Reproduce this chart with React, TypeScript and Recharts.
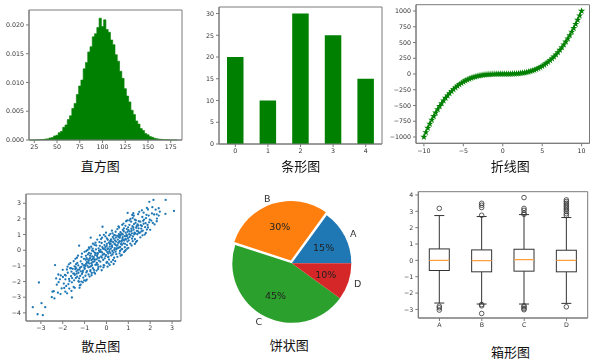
import React from 'react'
import {
  BarChart, Bar, AreaChart, Area, LineChart, Line, ScatterChart, Scatter, PieChart, Pie, Cell,
  XAxis, YAxis, CartesianGrid, Symbols,
} from 'recharts'

const GREEN = '#008000'
const FRAME = '#7a7a7a'
const TICK = { fontSize: 6.3, fill: '#333', fontFamily: 'DejaVu Sans' }
const TITLE_FONT = '"Noto Sans CJK SC", sans-serif'

// 直方图
const histCenters = [
  20, 22.5, 25, 27.5, 30, 32.5, 35, 37.5, 40, 42.5,
  45, 47.5, 50, 52.5, 55, 57.5, 60, 62.5, 65, 67.5,
  70, 72.5, 75, 77.5, 80, 82.5, 85, 87.5, 90, 92.5,
  95, 97.5, 100, 102.5, 105, 107.5, 110, 112.5, 115, 117.5,
  120, 122.5, 125, 127.5, 130, 132.5, 135, 137.5, 140, 142.5,
  145, 147.5, 150, 152.5, 155, 157.5, 160, 162.5, 165, 167.5,
  170, 172.5, 175, 177.5, 180, 182.5,
]
const histDensity = [
  0.00001, 0.00001, 0.00002, 0.00004, 0.00004, 0.00008, 0.0001, 0.00016, 0.0002, 0.00036,
  0.00043, 0.00071, 0.00083, 0.00128, 0.00151, 0.00221, 0.00262, 0.00355, 0.00421, 0.00548,
  0.00635, 0.00792, 0.00938, 0.01042, 0.01237, 0.01349, 0.01531, 0.01622, 0.01794, 0.01848,
  0.01957, 0.02118, 0.01972, 0.02089, 0.01921, 0.01872, 0.01739, 0.01658, 0.01483, 0.01371,
  0.01195, 0.01072, 0.00893, 0.00764, 0.00662, 0.00517, 0.00443, 0.00331, 0.00276, 0.00198,
  0.00163, 0.00112, 0.00091, 0.00059, 0.00047, 0.00029, 0.00023, 0.00014, 0.00011, 0.00006,
  0.00005, 0.00003, 0.00002, 0.00001, 0.00001, 0.00001,
]
const histTicksX = [25, 50, 75, 100, 125, 150, 175]
const histTicksY = [0, 0.005, 0.01, 0.015, 0.02]

// 条形图
const barCats = ['0', '1', '2', '3', '4']
const barValues = [20, 10, 30, 25, 15]
const barTicksY = [0, 5, 10, 15, 20, 25, 30]

// 折线图
const lineX = [
  -10, -9.75, -9.5, -9.25, -9, -8.75, -8.5, -8.25, -8, -7.75, -7.5, -7.25, -7, -6.75, -6.5, -6.25,
  -6, -5.75, -5.5, -5.25, -5, -4.75, -4.5, -4.25, -4, -3.75, -3.5, -3.25, -3, -2.75, -2.5, -2.25,
  -2, -1.75, -1.5, -1.25, -1, -0.75, -0.5, -0.25, 0, 0.25, 0.5, 0.75, 1, 1.25, 1.5, 1.75,
  2, 2.25, 2.5, 2.75, 3, 3.25, 3.5, 3.75, 4, 4.25, 4.5, 4.75, 5, 5.25, 5.5, 5.75,
  6, 6.25, 6.5, 6.75, 7, 7.25, 7.5, 7.75, 8, 8.25, 8.5, 8.75, 9, 9.25, 9.5, 9.75, 10,
]
const lineY = [
  -1000, -926.9, -857.4, -791.5, -729, -669.9, -614.1, -561.5, -512, -465.5, -421.9, -381.1, -343, -307.5, -274.6, -244.1,
  -216, -190.1, -166.4, -144.7, -125, -107.2, -91.1, -76.8, -64, -52.7, -42.9, -34.3, -27, -20.8, -15.6, -11.4,
  -8, -5.4, -3.4, -2, -1, -0.4, -0.1, 0, 0, 0, 0.1, 0.4, 1, 2, 3.4, 5.4,
  8, 11.4, 15.6, 20.8, 27, 34.3, 42.9, 52.7, 64, 76.8, 91.1, 107.2, 125, 144.7, 166.4, 190.1,
  216, 244.1, 274.6, 307.5, 343, 381.1, 421.9, 465.5, 512, 561.5, 614.1, 669.9, 729, 791.5, 857.4, 926.9, 1000,
]
const lineTicksX = [-10, -5, 0, 5, 10]
const lineTicksY = [-1000, -750, -500, -250, 0, 250, 500, 750, 1000]

// 散点图
const scatterPoints = [
  [-0.12, 0.08], [0.45, 0.06], [0.07, 0.12], [-0.31, -0.11], [0.22, -0.33], [-0.19, 0.2], [0.38, 0.13], [-0.02, -0.31],
  [0.15, 0.23], [0.29, 0.85], [-0.37, -1.07], [0.11, 0.48], [-0.26, -0.1], [0.41, 0.35], [-0.08, -0.52], [0.33, 0.74],
  [-0.44, -0.81], [0.02, 0.41], [-0.15, -0.62], [0.27, -0.05], [0.49, 0.92], [-0.48, 0.05], [0.18, -0.17], [-0.22, 0.46],
  [0.36, 0.02], [-0.05, 0.19], [0.09, -0.41], [-0.33, -0.48], [0.24, 0.57], [-0.41, -0.25], [0.13, -0.08], [-0.28, -0.73],
  [0.47, 0.28], [-0.17, -0.29], [0.04, -0.12], [0.31, 0.51], [-0.46, -0.58], [0.2, 0.1], [-0.09, 0.33], [0.42, -0.09],
  [-0.36, 0.12], [0.06, 0.67], [-0.24, -0.4], [0.39, 0.63], [-0.13, -0.95], [0.16, 0.38], [-0.39, -0.18], [0.26, 0.21],
  [-0.01, -0.02], [0.44, 0.55], [-0.3, 0.28], [0.12, -0.6], [-0.2, -0.14], [0.35, 0.96], [-0.43, -0.37], [0.01, 0.27],
  [-0.11, -0.24], [0.21, 0.69], [-0.35, -0.66], [0.48, 0.12], [-0.06, 0.04], [0.28, -0.27], [-0.47, -0.92], [0.17, 0.59],
  [-0.27, 0.02], [0.08, -0.21], [0.37, 0.4], [-0.16, 0.11], [0.03, -0.75], [-0.4, -0.5], [0.25, 0.3], [0.43, 0.81],
  [-0.21, -0.47], [0.14, 0.04], [-0.04, -0.38], [0.32, -0.15], [-0.34, -0.02], [0.19, 0.44], [-0.49, -0.19], [0.05, 0.09],
  [0.54, 0.47], [0.66, 0.98], [0.81, 0.62], [0.93, 1.35], [0.63, 0.21], [0.74, 0.83], [0.98, 0.77], [0.57, 1.02],
  [0.71, 0.35], [0.88, 1.12], [0.52, 0.68], [0.96, 0.55], [0.68, 0.54], [0.79, 1.21], [0.61, 0.79], [0.85, 0.41],
  [0.92, 0.99], [0.58, 0.18], [0.76, 0.66], [0.99, 1.46], [0.64, 1.15], [0.83, 0.9], [0.55, 0.85], [0.72, 0.07],
  [0.9, 0.68], [0.6, 0.58], [0.87, 1.56], [0.78, 0.44], [0.95, 0.92], [0.51, 0.33], [0.69, 1.07], [0.84, 0.19],
  [0.62, 0.91], [0.97, 1.18], [0.73, 0.72], [0.56, 0.5], [0.89, 0.88], [0.66, 0.39], [0.8, 1.4], [0.94, 0.33],
  [0.59, 0.96], [0.75, 1.01], [0.86, 0.71], [0.53, 0.14], [0.7, 0.6],
  [-0.58, -0.44], [-0.83, -1.09], [-0.71, -0.22], [-0.95, -0.61], [-0.66, -0.96], [-0.89, -1.33], [-0.52, -0.31], [-0.77, -0.85],
  [-0.98, -0.95], [-0.62, -1.15], [-0.74, -0.48], [-0.86, -0.59], [-0.55, -0.71], [-0.92, -1.42], [-0.69, -0.64], [-0.8, -0.17],
  [-0.6, -0.06], [-0.97, -1.01], [-0.73, -1.27], [-0.84, -0.8], [-0.51, -0.93], [-0.65, -0.39], [-0.9, -0.76], [-0.78, -0.55],
  [-0.57, -1.26], [-0.94, -0.36], [-0.68, -0.83], [-0.82, -1.55], [-0.63, -0.57], [-0.99, -1.19], [-0.72, 0.8], [-0.87, -0.99],
  [-0.54, -0.15], [-0.76, -1.06], [-0.93, -0.87], [-0.61, -0.75], [-0.85, -0.27], [-0.7, -1.02], [-0.96, -1.63], [-0.59, -0.52],
  [-0.81, -0.68], [-0.67, -1.45], [-0.91, -0.5], [-0.53, -0.61], [-0.75, -0.34],
  [1.07, 1.19], [1.21, 0.88], [1.45, 1.58], [1.14, 1.37], [1.33, 1.75], [1.02, 0.63], [1.28, 1.12], [1.41, 1.02],
  [1.17, 0.74], [1.36, 1.43], [1.05, 1.62], [1.24, 1.31], [1.48, 1.85], [1.11, 0.96], [1.3, 0.7], [1.19, 1.53],
  [1.39, 1.24], [1.04, 1.02], [1.26, 1.67], [1.44, 1.2], [1.09, 0.42], [1.35, 1.91], [1.16, 1.08], [1.23, 1.45],
  [1.47, 1.4], [1.01, 1.28], [1.32, 1.07], [1.13, 1.82], [1.42, 1.65], [1.2, 0.58], [1.38, 1.53], [1.06, 0.84],
  [1.27, 1.02], [1.49, 1.11], [1.15, 1.24], [0.97, 2.38], [1.23, 2.36],
  [-1.05, -0.97], [-1.28, -1.44], [-1.42, -1.06], [-1.18, -0.71], [-1.34, -1.69], [-1.07, -1.31], [-1.45, -1.58], [-1.21, -1.12],
  [-1.39, -0.89], [-1.12, -1.52], [-1.31, -1.27], [-1.48, -1.92], [-1.03, -0.55], [-1.25, -1.8], [-1.37, -1.35], [-1.15, -1.06],
  [-1.43, -1.21], [-1.09, -1.41], [-1.29, -0.97], [-1.47, -1.49], [-1.2, -1.64], [-1.33, -0.81], [-1.01, -1.12], [-1.4, -1.77],
  [-1.24, -1.23], [-1.11, -0.87], [-1.36, -1.5], [-1.46, -1.03], [-1.17, -1.35], [-1.26, -2.02], [-1.23, -2.4], [-1.25, 0.29],
  [-1.06, -1.75], [-1.38, -1.16], [-1.14, -0.43],
  [1.59, 1.38], [1.72, 1.96], [1.88, 1.61], [1.55, 1.82], [1.66, 1.25], [1.81, 2.05], [1.95, 1.78], [1.62, 1.55],
  [1.77, 1.47], [1.93, 2.21], [1.53, 1.12], [1.7, 1.69], [1.85, 1.32], [1.98, 1.95], [1.64, 2.12], [1.79, 1.73],
  [1.57, 1.6], [1.9, 1.45], [1.68, 1.88], [1.83, 2.26],
  [-1.54, -1.19], [-1.71, -1.83], [-1.9, -1.58], [-1.58, -2.05], [-1.77, -1.44], [-1.95, -2.13], [-1.62, -1.66], [-1.84, -2.28],
  [-1.52, -1.49], [-1.66, -1.15], [-1.88, -1.86], [-1.99, -1.71], [-1.6, -1.37], [-1.74, -2.16], [-1.93, -2.41], [-1.57, -1.78],
  [-1.81, -1.23], [-1.69, -1.97], [-1.86, -1.62], [-1.58, -3.02],
  [2.05, 1.89], [2.18, 2.28], [2.31, 2.02], [2.12, 1.74], [2.44, 2.46], [2.25, 2.59], [2.39, 2.21], [2.08, 2.35],
  [2.15, 3.21], [1.96, 3.09], [2.3, 2.29], [2.39, 2.68],
  [-2.13, -1.86], [-2.05, -2.44], [-2.27, -2.2], [-2.41, -2.62], [-2.19, -2.04], [-2.35, -0.95], [-2.5, -3.0], [-2.38, -3.08],
  [-2.47, -2.65], [-2.22, -2.71], [-2.09, -1.61],
  [2.71, 3.21], [3.09, 2.51], [2.7, 2.32], [-3.37, -3.64], [-3.15, -4.09], [-2.91, -4.15], [-2.8, -3.64], [-2.97, -3.38],
  [-3.09, -2.06], [-0.18, 1.5],
  [0.1, -0.85], [-0.05, 0.88], [0.3, -0.62], [-0.25, 0.71], [0.42, 1.18], [-0.38, -1.2], [0.6, -0.2], [-0.55, 0.35],
  [0.85, -0.05], [-0.8, 0.18], [0.18, 1.05], [-0.14, -1.1], [0.5, 1.35], [-0.45, -1.3], [0.72, 1.62], [-0.68, -1.6],
  [1.0, 0.15], [-1.0, -0.1], [1.2, 2.05], [-1.15, -2.0], [0.35, -0.48], [-0.32, 0.52], [0.9, 1.85], [-0.9, -1.88],
  [1.3, 0.4], [-1.3, -0.35], [0.05, -1.05], [-0.02, 1.12], [0.65, -0.35], [-0.62, 0.42], [1.55, 0.82], [-1.5, -0.7],
  [1.45, 2.3], [-1.45, -2.4], [0.25, 1.25], [-0.22, -1.28], [0.8, -0.12], [-0.78, 0.1], [1.1, 2.0], [-1.08, -2.05],
  [1.75, 1.0], [-1.72, -0.9], [1.85, 2.7], [-1.8, -2.75], [0.15, -0.95], [-0.12, 0.98], [0.58, 1.45], [-0.56, -1.42],
  [1.62, 2.55], [-1.6, -2.6], [2.0, 1.3], [-2.0, -1.25], [0.4, -0.7], [-0.42, 0.68], [0.95, 1.9], [-0.95, -1.95],
  [1.35, 0.52], [-1.35, -0.48], [0.7, -0.3], [-0.7, 0.22], [1.25, 2.2], [-1.22, -2.25], [0.02, 0.75], [0.0, -0.8],
  [0.5, -0.42], [-0.5, 0.48], [1.65, 0.95], [-1.65, -0.82], [0.28, 1.08], [-0.27, -1.04], [1.9, 2.6], [-1.88, -2.65],
  [0.78, 1.7], [-0.77, -1.68], [1.15, 0.3], [-1.12, -0.22], [0.45, -0.25], [-0.47, 0.3], [2.2, 1.65], [-2.2, -1.55],
  [1.05, 1.9], [-1.02, -1.92], [0.62, -0.05], [-0.63, 0.1], [1.5, 2.45], [-1.5, -2.35], [0.12, 0.95], [-0.1, -0.98],
  [0.88, 0.0], [-0.86, 0.02], [1.4, 0.6], [-1.42, -0.55], [0.22, -0.75], [-0.2, 0.8], [1.8, 1.1], [-1.78, -1.05],
  [0.55, 1.52], [-0.52, -1.5], [2.1, 2.75], [-2.1, -2.8], [0.33, -0.88], [-0.3, 0.95], [1.18, 2.25], [-1.18, -2.2],
  [0.95, 0.1], [-0.92, -0.05], [1.7, 2.4], [-1.7, -2.45], [0.08, -0.45], [-0.07, 0.55], [0.75, 1.3], [-0.74, -1.35],
  [1.3, 1.95], [-1.28, -1.98], [0.4, 0.95], [-0.4, -0.92], [1.6, 1.2], [-1.62, -1.15], [2.3, 1.85], [-2.3, -1.8],
  [0.68, 0.05], [-0.66, -0.02],
]
const scatterTicksX = [-3, -2, -1, 0, 1, 2, 3]
const scatterTicksY = [-4, -3, -2, -1, 0, 1, 2, 3]

// 饼状图
const pieLabels = ['A', 'B', 'C', 'D']
const pieShares = [15, 30, 45, 10]
const pieColors = ['#1f77b4', '#ff7f0e', '#2ca02c', '#d62728']
const pieExploded = 'B'

// 箱形图
const boxCats = ['A', 'B', 'C', 'D']
const boxLow = [-2.61, -2.67, -2.67, -2.63]
const boxQ1 = [-0.62, -0.7, -0.66, -0.7]
const boxMedian = [0, -0.01, 0.05, 0]
const boxQ3 = [0.7, 0.64, 0.68, 0.62]
const boxHigh = [2.74, 2.68, 2.8, 2.62]
const boxOutliers = [
  [3.18, -2.8, -2.9, -3.04],
  [3.49, 3.37, 3.23, 2.76, -2.7, -2.78, -3.25],
  [3.84, 3.18, 3.06, 2.9, 2.82, -2.78, -2.85, -2.95, -3.02],
  [3.7, 3.6, 3.49, 3.39, 3.29, 3.19, 3.09, 2.99, 2.85, 2.74, -2.84],
]
const boxTicksY = [-3, -2, -1, 0, 1, 2, 3, 4]

const histData = histCenters.map((x, i) => ({ x, d: histDensity[i] }))
const barData = barCats.map((name, i) => ({ name, v: barValues[i] }))
const lineData = lineX.map((x, i) => ({ x, y: lineY[i] }))
const scatterData = scatterPoints.map(([x, y]) => ({ x, y }))
const pieData = pieLabels.map((name, i) => ({ name, value: pieShares[i] }))
const boxData = boxCats.map((name, i) => ({
  name,
  range: [boxLow[i], boxHigh[i]],
  q1: boxQ1[i],
  med: boxMedian[i],
  q3: boxQ3[i],
  out: boxOutliers[i],
}))

const minus = (v: number) => (v < 0 ? '\u2212' + String(-v) : String(v))

// full box around the plot area, taken from the chart's own offset
const frame = () => (
  <CartesianGrid stroke={FRAME} strokeWidth={1}
    horizontalCoordinatesGenerator={({ offset }: any) => [offset.top, offset.top + offset.height]}
    verticalCoordinatesGenerator={({ offset }: any) => [offset.left, offset.left + offset.width]} />
)

const axisCommon = { stroke: FRAME, tick: TICK, tickSize: 3, tickMargin: 2 }

function BoxShape(props: any) {
  const { x, y, width, height, payload } = props
  const [lo, hi] = payload.range
  const top = Math.min(y, y + height)
  const h = Math.abs(height)
  const py = (v: number) => top + ((hi - v) / (hi - lo)) * h
  const cx = x + width / 2
  const cap = width / 4
  const ink = '#333'
  return (
    <g>
      <line x1={cx} x2={cx} y1={py(hi)} y2={py(payload.q3)} stroke={ink} strokeWidth={1} />
      <line x1={cx} x2={cx} y1={py(payload.q1)} y2={py(lo)} stroke={ink} strokeWidth={1} />
      <line x1={cx - cap} x2={cx + cap} y1={py(hi)} y2={py(hi)} stroke={ink} strokeWidth={1} />
      <line x1={cx - cap} x2={cx + cap} y1={py(lo)} y2={py(lo)} stroke={ink} strokeWidth={1} />
      <rect x={x} y={py(payload.q3)} width={width} height={py(payload.q1) - py(payload.q3)}
        fill="#fff" stroke={ink} strokeWidth={1} />
      <line x1={x} x2={x + width} y1={py(payload.med)} y2={py(payload.med)} stroke="#ffa040" strokeWidth={1.2} />
      {payload.out.map((v: number, i: number) => (
        <circle key={i} cx={cx} cy={py(v)} r={2.3} fill="none" stroke={ink} strokeWidth={0.8} />
      ))}
    </g>
  )
}

const RAD = Math.PI / 180
const makePieLabel = (only: (name: string) => boolean) => (p: any) => {
  const name = p.name ?? p.payload?.name
  if (!only(name)) return null
  const a = -p.midAngle * RAD
  const r1 = p.outerRadius * 1.1
  const r2 = p.outerRadius * 0.6
  return (
    <g key={name}>
      <text x={p.cx + r1 * Math.cos(a)} y={p.cy + r1 * Math.sin(a)} textAnchor={Math.cos(a) > 0 ? 'start' : 'end'}
        dominantBaseline="central" fontSize={9.5} fill="#333" fontFamily="DejaVu Sans">{name}</text>
      <text x={p.cx + r2 * Math.cos(a)} y={p.cy + r2 * Math.sin(a)} textAnchor="middle"
        dominantBaseline="central" fontSize={9.5} fill="#222" fontFamily="DejaVu Sans">
        {Math.round(p.percent * 100)}%
      </text>
    </g>
  )
}

function Title({ text, cx, cy }: { text: string; cx: number; cy: number }) {
  return (
    <div style={{
      position: 'absolute', left: cx - 40, top: cy - 9, width: 80, lineHeight: '18px',
      textAlign: 'center', fontSize: 13, fontFamily: TITLE_FONT, color: '#111',
    }}>{text}</div>
  )
}

const panel = (left: number, top: number): React.CSSProperties => ({
  position: 'absolute', left, top, willChange: 'transform',
})

export default function App() {
  // explode offset for slice B, along its mid angle
  const total = pieShares.reduce((s, v) => s + v, 0)
  const bIdx = pieLabels.indexOf(pieExploded)
  const before = pieShares.slice(0, bIdx).reduce((s, v) => s + v, 0)
  const bMid = ((before + pieShares[bIdx] / 2) / total) * 360 * RAD
  const pieCx = 91.8
  const pieCy = 83.3
  const pieR = 59.5
  const explode = 3

  return (
    <div style={{ position: 'absolute', left: 0, top: 0, width: 600, height: 364, background: '#fff', fontFamily: 'DejaVu Sans' }}>
      <div style={panel(0, 0)}>
        <AreaChart width={186} height={154} data={histData} margin={{ top: 10, right: 4, bottom: 0, left: 0 }}>
          {frame()}
          <XAxis dataKey="x" type="number" domain={[19.2, 187.4]} ticks={histTicksX} height={14}
            allowDataOverflow {...axisCommon} />
          <YAxis type="number" domain={[0, 0.0226]} ticks={histTicksY} width={29}
            tickFormatter={(v: number) => v.toFixed(3)} {...axisCommon} />
          <Area dataKey="d" type="step" fill={GREEN} fillOpacity={1} stroke={GREEN} strokeWidth={0.6}
            dot={false} activeDot={false} isAnimationActive={false} />
        </AreaChart>
      </div>
      <Title text="直方图" cx={100.2} cy={165.8} />

      <div style={panel(190, 0)}>
        <BarChart width={194} height={158} data={barData} margin={{ top: 7, right: 2, bottom: 0, left: 0 }}>
          {frame()}
          <XAxis dataKey="name" type="category" height={14} {...axisCommon} />
          <YAxis type="number" domain={[0, 31.5]} ticks={barTicksY} width={29} {...axisCommon} />
          <Bar dataKey="v" fill={GREEN} barSize={16.5} isAnimationActive={false} />
        </BarChart>
      </div>
      <Title text="条形图" cx={300.8} cy={166} />

      <div style={panel(380, 0)}>
        <LineChart width={212} height={158} data={lineData} margin={{ top: 4.7, right: 2.5, bottom: 0, left: 0 }}>
          {frame()}
          <XAxis dataKey="x" type="number" domain={[-11, 11]} ticks={lineTicksX} height={14.7}
            tickFormatter={minus} {...axisCommon} />
          <YAxis type="number" domain={[-1100, 1100]} ticks={lineTicksY} width={36}
            tickFormatter={minus} {...axisCommon} />
          <Line dataKey="y" stroke={GREEN} strokeWidth={1} isAnimationActive={false}
            dot={(p: any) => (
              <Symbols key={p.index} cx={p.cx} cy={p.cy} type="star" size={16} fill={GREEN} stroke="none" />
            )} />
        </LineChart>
      </div>
      <Title text="折线图" cx={510.2} cy={165.8} />

      <div style={panel(0, 180)}>
        <ScatterChart width={183} height={155} margin={{ top: 14, right: 2, bottom: 0, left: 0 }}>
          {frame()}
          <XAxis dataKey="x" type="number" domain={[-3.68, 3.41]} ticks={scatterTicksX} height={14}
            tickFormatter={minus} {...axisCommon} />
          <YAxis dataKey="y" type="number" domain={[-4.52, 3.59]} ticks={scatterTicksY} width={26}
            tickFormatter={minus} {...axisCommon} />
          <Scatter data={scatterData} isAnimationActive={false}
            shape={(p: any) => <circle cx={p.cx} cy={p.cy} r={1.15} fill="#1f77b4" />} />
        </ScatterChart>
      </div>
      <Title text="散点图" cx={100.8} cy={345.7} />

      <div style={panel(200, 180)}>
        <PieChart width={190} height={150} margin={{ top: 0, right: 0, bottom: 0, left: 0 }}>
          <Pie data={pieData} dataKey="value" nameKey="name" cx={pieCx} cy={pieCy} outerRadius={pieR}
            startAngle={0} endAngle={360} stroke="none" isAnimationActive={false} labelLine={false}
            label={makePieLabel((n) => n !== pieExploded)}>
            {pieData.map((d, i) => (
              <Cell key={d.name} fill={d.name === pieExploded ? 'none' : pieColors[i]} />
            ))}
          </Pie>
          <Pie data={pieData} dataKey="value" nameKey="name"
            cx={pieCx + explode * Math.cos(bMid)} cy={pieCy - explode * Math.sin(bMid)} outerRadius={pieR}
            startAngle={0} endAngle={360} stroke="none" isAnimationActive={false} labelLine={false}
            label={makePieLabel((n) => n === pieExploded)}>
            {pieData.map((d, i) => (
              <Cell key={d.name} fill={d.name === pieExploded ? pieColors[i] : 'none'} />
            ))}
          </Pie>
        </PieChart>
      </div>
      <Title text="饼状图" cx={289.2} cy={345} />

      <div style={panel(380, 180)}>
        <BarChart width={210} height={152} data={boxData} margin={{ top: 11.7, right: 2.3, bottom: 0, left: 0 }}>
          {frame()}
          <XAxis dataKey="name" type="category" height={14} {...axisCommon} />
          <YAxis type="number" domain={[-3.525, 4.2]} ticks={boxTicksY} width={38.3}
            tickFormatter={minus} allowDataOverflow {...axisCommon} />
          <Bar dataKey="range" barSize={20} shape={BoxShape} isAnimationActive={false} />
        </BarChart>
      </div>
      <Title text="箱形图" cx={510.5} cy={351.7} />
    </div>
  )
}
